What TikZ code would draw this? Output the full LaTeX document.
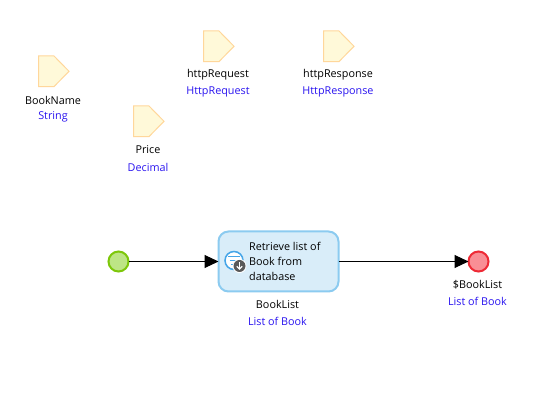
\documentclass[tikz,border=0pt]{standalone}
\usepackage{fontspec}
\setmainfont{Open Sans}
\usetikzlibrary{arrows.meta}
\definecolor{paramfill}{HTML}{FFF9D9}
\definecolor{paramline}{HTML}{FFD79B}
\definecolor{typeblue}{HTML}{2A14F0}
\definecolor{boxfill}{HTML}{D9EDF9}
\definecolor{boxline}{HTML}{8CCBF0}
\definecolor{startfill}{HTML}{BDE585}
\definecolor{startline}{HTML}{7DC70A}
\definecolor{endfill}{HTML}{F98E95}
\definecolor{endline}{HTML}{EE2A35}
\definecolor{iconblue}{HTML}{45A5E8}
\definecolor{icongrey}{HTML}{595959}
\tikzset{
  x=1pt,y=-1pt,
  namelabel/.style={inner sep=0pt,font=\fontsize{10.8}{12}\selectfont,text=black,anchor=center},
  typelabel/.style={inner sep=0pt,font=\fontsize{10.8}{12}\selectfont,text=typeblue,anchor=center},
  param/.style={draw=paramline,fill=paramfill,line width=1pt},
  flow/.style={draw=black,line width=1pt,-{Triangle[length=14pt,width=13pt]}},
  event/.style={circle,minimum size=20pt,inner sep=0pt,line width=2pt,outer sep=0pt},
}
\newcommand{\paramshape}[2]{%
  \draw[param] (#1,#2) -- ++(15.5,0) -- ++(15,15.3) -- ++(-15,15.3) -- ++(-15.5,0) -- cycle;}
\begin{document}
\begin{tikzpicture}
\useasboundingbox (0,0) rectangle (555,411);
\fill[white] (0,0) rectangle (555,411);

\paramshape{38.5}{56}
\node[namelabel] (n1) at (53,100) {BookName};
\node[typelabel] (t1) at (53,117) {String};

\paramshape{133.5}{106}
\node[namelabel] (n2) at (148,150) {Price};
\node[typelabel] (t2) at (148,167) {Decimal};

\paramshape{203.5}{31}
\node[namelabel] (n3) at (218,75) {httpRequest};
\node[typelabel] (t3) at (218,92) {HttpRequest};

\paramshape{323.5}{31}
\node[namelabel] (n4) at (338,75) {httpResponse};
\node[typelabel] (t4) at (338,92) {HttpResponse};

\node[event,draw=startline,fill=startfill] (start) at (118.5,261.5) {};
\node[event,draw=endline,fill=endfill] (end) at (478.5,261.5) {};
\node[draw=boxline,fill=boxfill,line width=2pt,rounded corners=10pt,minimum width=120pt,minimum height=60pt,inner sep=0pt,outer sep=0pt] (act) at (278.5,261.5) {};

\draw[flow] (start) -- (act);
\draw[flow] (act) -- (end);

% icon
\draw[iconblue,fill=white,line width=1.5pt] (234,260.5) circle (9);
\draw[iconblue,line width=1.5pt] (228,256.5) -- (240,256.5) (229.5,260.5) -- (238.5,260.5) (231,264.5) -- (236,264.5);
\fill[white] (239.5,266) circle (7);
\fill[icongrey] (239.5,266) circle (6);
\draw[white,line width=1.2pt] (239.5,262.5) -- (239.5,268.5);
\draw[white,line width=1.2pt] (236.8,266.3) -- (239.5,269) -- (242.2,266.3);

\node[inner sep=0pt,anchor=west,align=left,font=\fontsize{10.8}{15.2}\selectfont] (lbl) at (249,261.5) {Retrieve list of\\Book from\\database};
\node[namelabel] (n5) at (277.5,304.5) {BookList};
\node[typelabel] (t5) at (277.5,321.5) {List of Book};
\node[namelabel] (n6) at (477.5,284.5) {\$BookList};
\node[typelabel] (t6) at (477.5,301.5) {List of Book};
\end{tikzpicture}
\end{document}
